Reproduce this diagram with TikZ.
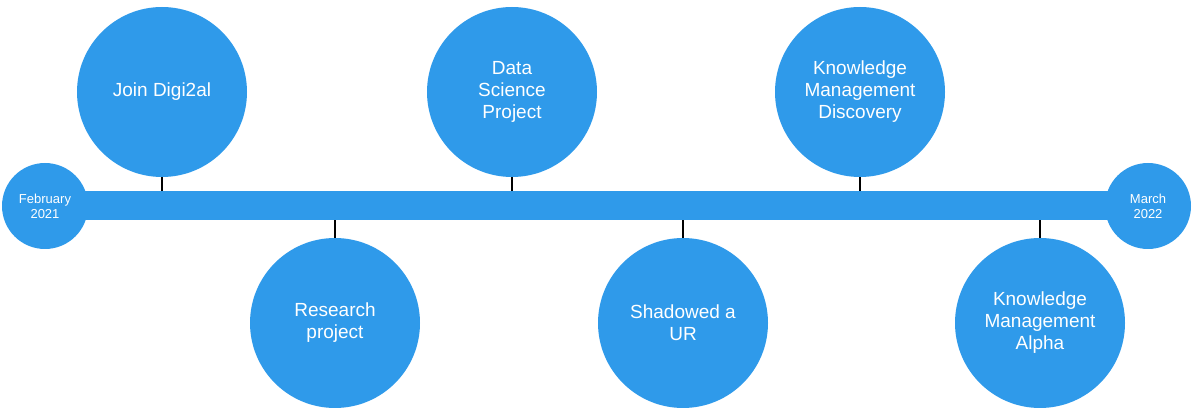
\documentclass[tikz,border=0pt]{standalone}
\usepackage{fontspec}
\setmainfont{Liberation Sans}
\definecolor{tl}{HTML}{2F9AEA}
\begin{document}
\begin{tikzpicture}[x=1pt,y=-1pt,
  ev/.style={circle,fill=tl,minimum size=170pt,inner sep=0pt,text=white,align=center,font=\fontsize{19}{22}\selectfont},
  ed/.style={circle,fill=tl,minimum size=86pt,inner sep=0pt,text=white,align=center,font=\fontsize{13}{15}\selectfont},
  tick/.style={line width=1.5pt,black}]
\useasboundingbox (0,0) rectangle (1200,411);
\fill[tl] (40,191) rectangle (1150,220);
\node[ed] (s) at (45,206) {February\\2021};
\node[ed] (e) at (1148,206) {March\\2022};
\node[ev] (a) at (162,92) {Join Digi2al};
\node[ev] (b) at (335,323) {Research\\project};
\node[ev] (c) at (512,92) {Data\\Science\\Project};
\node[ev] (d) at (683,323) {Shadowed a\\UR};
\node[ev] (f) at (860,92) {Knowledge\\Management\\Discovery};
\node[ev] (g) at (1040,323) {Knowledge\\Management\\Alpha};
\coordinate (ta) at (162,191); \coordinate (tc) at (512,191); \coordinate (tf) at (860,191);
\coordinate (tb) at (335,220); \coordinate (td) at (683,220); \coordinate (tg) at (1040,220);
\draw[tick] (a.south) -- (ta);
\draw[tick] (c.south) -- (tc);
\draw[tick] (f.south) -- (tf);
\draw[tick] (b.north) -- (tb);
\draw[tick] (d.north) -- (td);
\draw[tick] (g.north) -- (tg);
\end{tikzpicture}
\end{document}
